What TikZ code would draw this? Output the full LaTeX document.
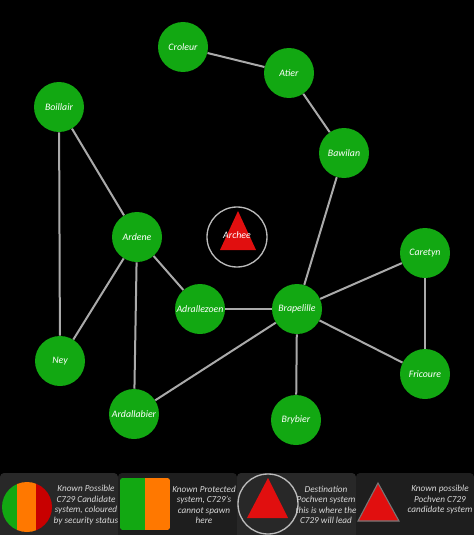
\documentclass[tikz,border=0pt]{standalone}
\usepackage{fontspec}
\setmainfont{Carlito}
\definecolor{nodegreen}{RGB}{18,168,18}
\definecolor{edgegray}{RGB}{170,170,170}
\definecolor{panelA}{RGB}{40,40,40}
\definecolor{panelB}{RGB}{30,30,30}
\definecolor{legorange}{RGB}{255,120,0}
\definecolor{legred}{RGB}{200,0,0}
\definecolor{trired}{RGB}{225,15,15}
\begin{document}
\begin{tikzpicture}[x=0.75pt,y=-0.75pt,
  sys/.style={circle,fill=nodegreen,minimum size=37.5pt,inner sep=0pt,text=white,font=\itshape\fontsize{7.4}{8}\selectfont},
  link/.style={draw=edgegray,line width=1.5pt},
  legtext/.style={text=white!85!black,font=\itshape\fontsize{6.9}{7.9}\selectfont,align=center},
  ring/.style={draw=edgegray!80!white,line width=1pt}]
\fill[black] (0,0) rectangle (474,535);
\useasboundingbox (0,0) rectangle (474,535);
% systems
\node[sys] (croleur) at (183,47) {Croleur};
\node[sys] (atier) at (289,73) {Atier};
\node[sys] (bawilan) at (344,153) {Bawilan};
\node[sys] (boillair) at (59,107) {Boillair};
\node[sys] (ardene) at (137,237) {Ardene};
\node[sys] (caretyn) at (425,253) {Caretyn};
\node[sys] (adrallezoen) at (200,309) {Adrallezoen};
\node[sys] (brapelille) at (297,309) {Brapelille};
\node[sys] (ney) at (60,361) {Ney};
\node[sys] (fricoure) at (425,374) {Fricoure};
\node[sys] (ardallabier) at (134,414) {Ardallabier};
\node[sys] (brybier) at (296,420) {Brybier};
% Archee
\node[circle,ring,minimum size=45pt,inner sep=0pt] (archeering) at (237,237) {};
\fill[trired] (238,211) -- (256,250) -- (220,250) -- cycle;
\node[text=white,font=\itshape\fontsize{7.4}{8}\selectfont] (archee) at (237,235) {Archee};
% links
\draw[link] (croleur) -- (atier);
\draw[link] (atier) -- (bawilan);
\draw[link] (bawilan) -- (brapelille);
\draw[link] (boillair) -- (ney);
\draw[link] (boillair) -- (ardene);
\draw[link] (ardene) -- (ney);
\draw[link] (ardene) -- (adrallezoen);
\draw[link] (ardene) -- (ardallabier);
\draw[link] (adrallezoen) -- (brapelille);
\draw[link] (brapelille) -- (caretyn);
\draw[link] (brapelille) -- (fricoure);
\draw[link] (brapelille) -- (brybier);
\draw[link] (brapelille) -- (ardallabier);
\draw[link] (caretyn) -- (fricoure);
% legend panels
\fill[panelA,rounded corners=3pt] (0,473) rectangle (118,540);
\fill[panelB,rounded corners=3pt] (118,473) rectangle (237,540);
\fill[panelA,rounded corners=3pt] (237,473) rectangle (356,540);
\fill[panelB,rounded corners=3pt] (356,473) rectangle (474,540);
% panel 1
\begin{scope}
\clip (27,507) circle (25);
\fill[nodegreen] (0,470) rectangle (17,540);
\fill[legorange] (17,470) rectangle (36,540);
\fill[legred] (36,470) rectangle (60,540);
\end{scope}
\node[legtext] (leg1) at (86,505) {Known Possible\\C729 Candidate\\system, coloured\\by security status};
% panel 2
\begin{scope}
\clip[rounded corners=2pt] (120,478) rectangle (170,530);
\fill[nodegreen] (120,478) rectangle (145,530);
\fill[legorange] (145,478) rectangle (170,530);
\end{scope}
\node[legtext] (leg2) at (204,505) {Known Protected\\system, C729's\\cannot spawn\\here};
% panel 3
\draw[ring] (268,504) circle (30);
\fill[trired] (268,478) -- (288,518) -- (247,518) -- cycle;
\node[legtext] (leg3) at (326,505) {Destination\\Pochven system\\this is where the\\C729 will lead};
% panel 4
\filldraw[fill=trired,draw=edgegray!70!black,line width=0.8pt] (378,483) -- (399,521) -- (358,521) -- cycle;
\node[legtext] (leg4) at (440,500) {Known possible\\Pochven C729\\candidate system};
\end{tikzpicture}
\end{document}
